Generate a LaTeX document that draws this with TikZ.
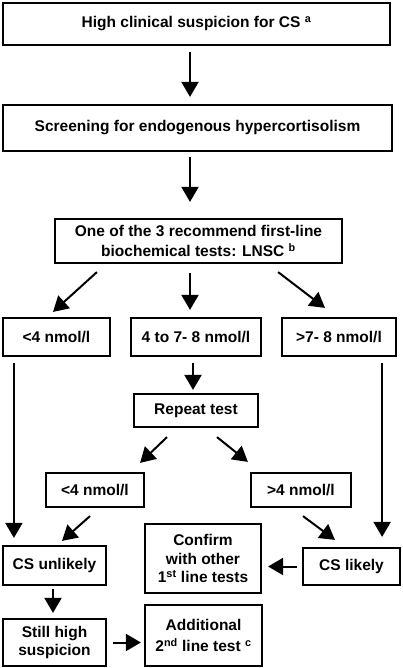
\documentclass[tikz,border=0pt]{standalone}
\usepackage{fontspec}
\setmainfont{Liberation Sans}
\usepackage{tikz}
\usetikzlibrary{arrows.meta, positioning, calc}

\tikzset{
  box/.style={draw, line width=2.2pt, font=\fontsize{15.5}{18.5}\selectfont\bfseries,
              align=center, inner sep=2pt},
  flow/.style={-{Triangle[length=15pt, width=17pt]}, line width=2pt},
}

\begin{document}
\begin{tikzpicture}[x=1pt, y=-1pt]
    \useasboundingbox (0,0) rectangle (403,668);
    \coordinate (spine) at (190,0);

    % Top of the chart
    \node[box, minimum width=387pt, minimum height=42pt] (suspicion) at (196.5,24)
      {High clinical suspicion for CS \textsuperscript{a}};
    \node[box, minimum width=389pt, minimum height=46pt] (screening) at (197.5,128)
      {Screening for endogenous hypercortisolism};
    \node[box, minimum width=287pt, minimum height=44pt] (lnsc) at (198.5,241)
      {One of the 3 recommend first-line\\[2pt]
       biochemical tests: LNSC \textsuperscript{b}};

    % First results
    \node[box, minimum width=107pt, minimum height=38pt] (low) at (56.5,337)
      {<4 nmol/l};
    \node[box, minimum width=130pt, minimum height=38pt] (middle) at (196,337)
      {4 to 7- 8 nmol/l};
    \node[box, minimum width=114pt, minimum height=38pt] (high) at (339,337)
      {>7- 8 nmol/l};
    \node[box, minimum width=124pt, minimum height=33pt] (repeat) at (196,410.5)
      {Repeat test};

    % Repeat results
    \node[box, minimum width=98pt, minimum height=34pt] (lowtwo) at (95,490)
      {<4 nmol/l};
    \node[box, minimum width=100pt, minimum height=34pt] (hightwo) at (301,490)
      {>4 nmol/l};

    % Outcomes
    \node[box, minimum width=103pt, minimum height=39pt] (unlikely) at (54.5,565.5)
      {CS unlikely};
    \node[box, minimum width=116pt, minimum height=69pt] (confirm) at (203,558.5)
      {Confirm\\with other\\1\textsuperscript{st} line tests};
    \node[box, minimum width=97pt, minimum height=37pt] (likely) at (351.5,566.5)
      {CS likely};
    \node[box, minimum width=103pt, minimum height=47pt] (still) at (54.5,642.5)
      {Still high\\suspicion};
    \node[box, minimum width=117pt, minimum height=61pt] (secondline) at (203.5,635.5)
      {Additional\\[3pt]2\textsuperscript{nd} line test \textsuperscript{c}};

    % Connectors
    \draw[flow, shorten <=6pt, shorten >=7pt] (suspicion.south -| spine) -- (screening.north -| spine);
    \draw[flow, shorten <=5pt, shorten >=16pt] (screening.south -| spine) -- (lnsc.north -| spine);
    \draw[flow, shorten <=9pt, shorten >=7pt] (lnsc.south -| spine) -- (middle.north -| spine);
    \draw[flow] ([shift={(43pt,-8pt)}]lnsc.south west) -- ([shift={(-3.5pt,5pt)}]low.north);
    \draw[flow] ([shift={(-65pt,-8pt)}]lnsc.south east) -- ([shift={(-14pt,9pt)}]high.north);
    \draw[flow, shorten <=6pt, shorten >=3pt] ([xshift=-3pt]middle.south) -- ([xshift=-3pt]repeat.north);
    \draw[flow] ([shift={(-29pt,-9pt)}]repeat.south) -- ([shift={(-5pt,9pt)}]lowtwo.north east);
    \draw[flow] ([shift={(21pt,-9pt)}]repeat.south) -- ([shift={(-2pt,10pt)}]hightwo.north west);
    \draw[flow] ([shift={(-5pt,-8pt)}]lowtwo.south) -- ([shift={(7.5pt,4pt)}]unlikely.north);
    \draw[flow] ([shift={(2pt,-8pt)}]hightwo.south) -- ([shift={(-16.5pt,7pt)}]likely.north);
    \draw[flow] ([shift={(12pt,-6pt)}]low.south west) -- ([shift={(12pt,7pt)}]unlikely.north west);
    \draw[flow] ([shift={(-15pt,-6pt)}]high.south east) -- ([shift={(-19pt,10pt)}]likely.north east);
    \draw[flow, shorten <=5pt, shorten >=6pt] (likely.west) -- (likely.west -| confirm.east);
    \draw[flow, shorten <=3pt, shorten >=5pt] ([xshift=-1.5pt]unlikely.south) -- ([xshift=-1.5pt]still.north);
    \draw[flow, shorten <=6pt, shorten >=3pt] (still.east) -- (still.east -| secondline.west);
  \end{tikzpicture}
\end{document}
